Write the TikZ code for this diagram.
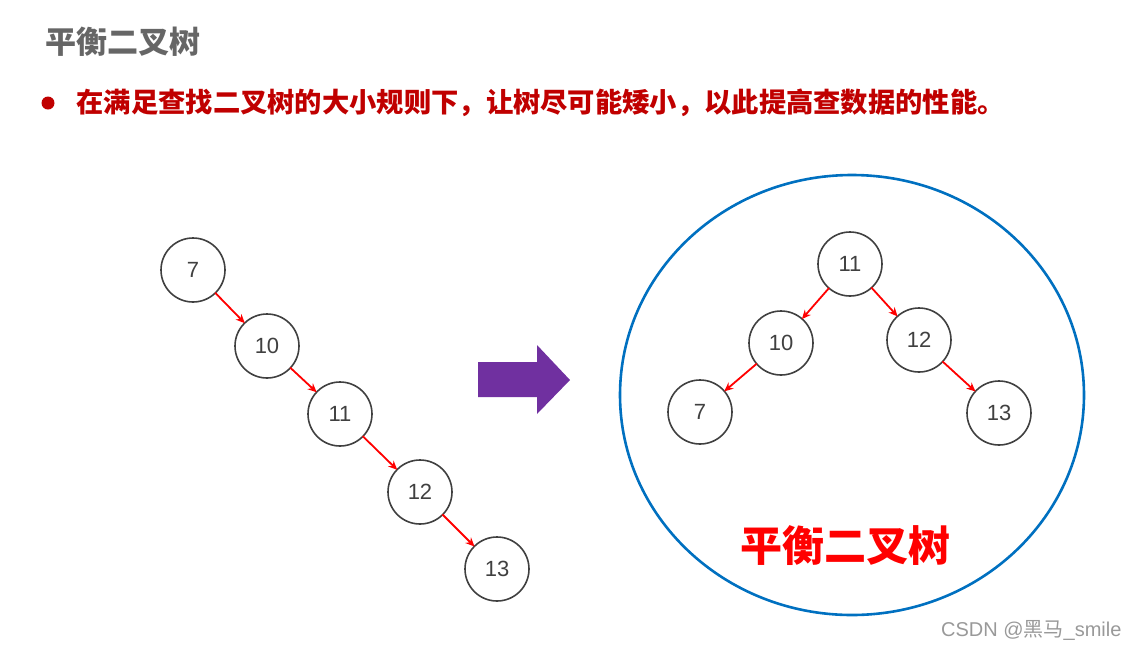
\documentclass[tikz,border=0pt]{standalone}
\usepackage{fontspec}
\setmainfont{Liberation Sans}
\newfontfamily\cjk{Noto Sans CJK SC}
\usetikzlibrary{arrows.meta,shapes.geometric}
\definecolor{ink}{HTML}{404040}
\definecolor{dred}{HTML}{C00000}
\definecolor{purp}{HTML}{7030A0}
\definecolor{blu}{HTML}{0070C0}
\begin{document}
\begin{tikzpicture}[x=1pt,y=-1pt,
  tn/.style={circle,draw=ink,line width=1.6pt,minimum size=64pt,inner sep=0pt,text=ink,font=\fontsize{22}{22}\selectfont},
  ed/.style={red,line width=1.8pt,-{Stealth[length=9pt,width=8pt]},shorten >=-1pt,shorten <=-1pt}]
\useasboundingbox (0,0) rectangle (1128,649);
\node[anchor=west,text=ink!80,font=\cjk\bfseries\fontsize{31}{31}\selectfont] (title) at (42,42) {平衡二叉树};
\node[circle,fill=dred,minimum size=13pt,inner sep=0pt] (bul) at (48,103) {};
\node[anchor=west,text=dred,font=\cjk\bfseries\fontsize{27.3}{27.3}\selectfont] (sub) at (73,103) {在满足查找二叉树的大小规则下，让树尽可能矮小，以此提高查数据的性能。};
% left chain
\node[tn] (a7) at (193,270) {7};
\node[tn] (a10) at (267,346) {10};
\node[tn] (a11) at (340,414) {11};
\node[tn] (a12) at (420,492) {12};
\node[tn] (a13) at (497,569) {13};
\draw[ed] (a7) -- (a10);
\draw[ed] (a10) -- (a11);
\draw[ed] (a11) -- (a12);
\draw[ed] (a12) -- (a13);
% arrow
\fill[purp] (478,362) -- (537,362) -- (537,345) -- (570,380) -- (537,414) -- (537,397) -- (478,397) -- cycle;
% ellipse
\node[ellipse,draw=blu,line width=2.6pt,minimum width=464pt,minimum height=440pt,inner sep=0pt] (ring) at (852,395) {};
\node[tn] (b11) at (850,264) {11};
\node[tn] (b10) at (781,343) {10};
\node[tn] (b12) at (919,340) {12};
\node[tn] (b7) at (700,412) {7};
\node[tn] (b13) at (999,413) {13};
\draw[ed] (b11) -- (b10);
\draw[ed] (b11) -- (b12);
\draw[ed] (b10) -- (b7);
\draw[ed] (b12) -- (b13);
\node[text=red,font=\cjk\bfseries\fontsize{42}{42}\selectfont] (big) at (845,546) {平衡二叉树};
\node[anchor=east,text=gray!80,font=\fontsize{20}{20}\selectfont] (wm) at (1125,630) {CSDN @{\cjk 黑马}\_smile};
\end{tikzpicture}
\end{document}
